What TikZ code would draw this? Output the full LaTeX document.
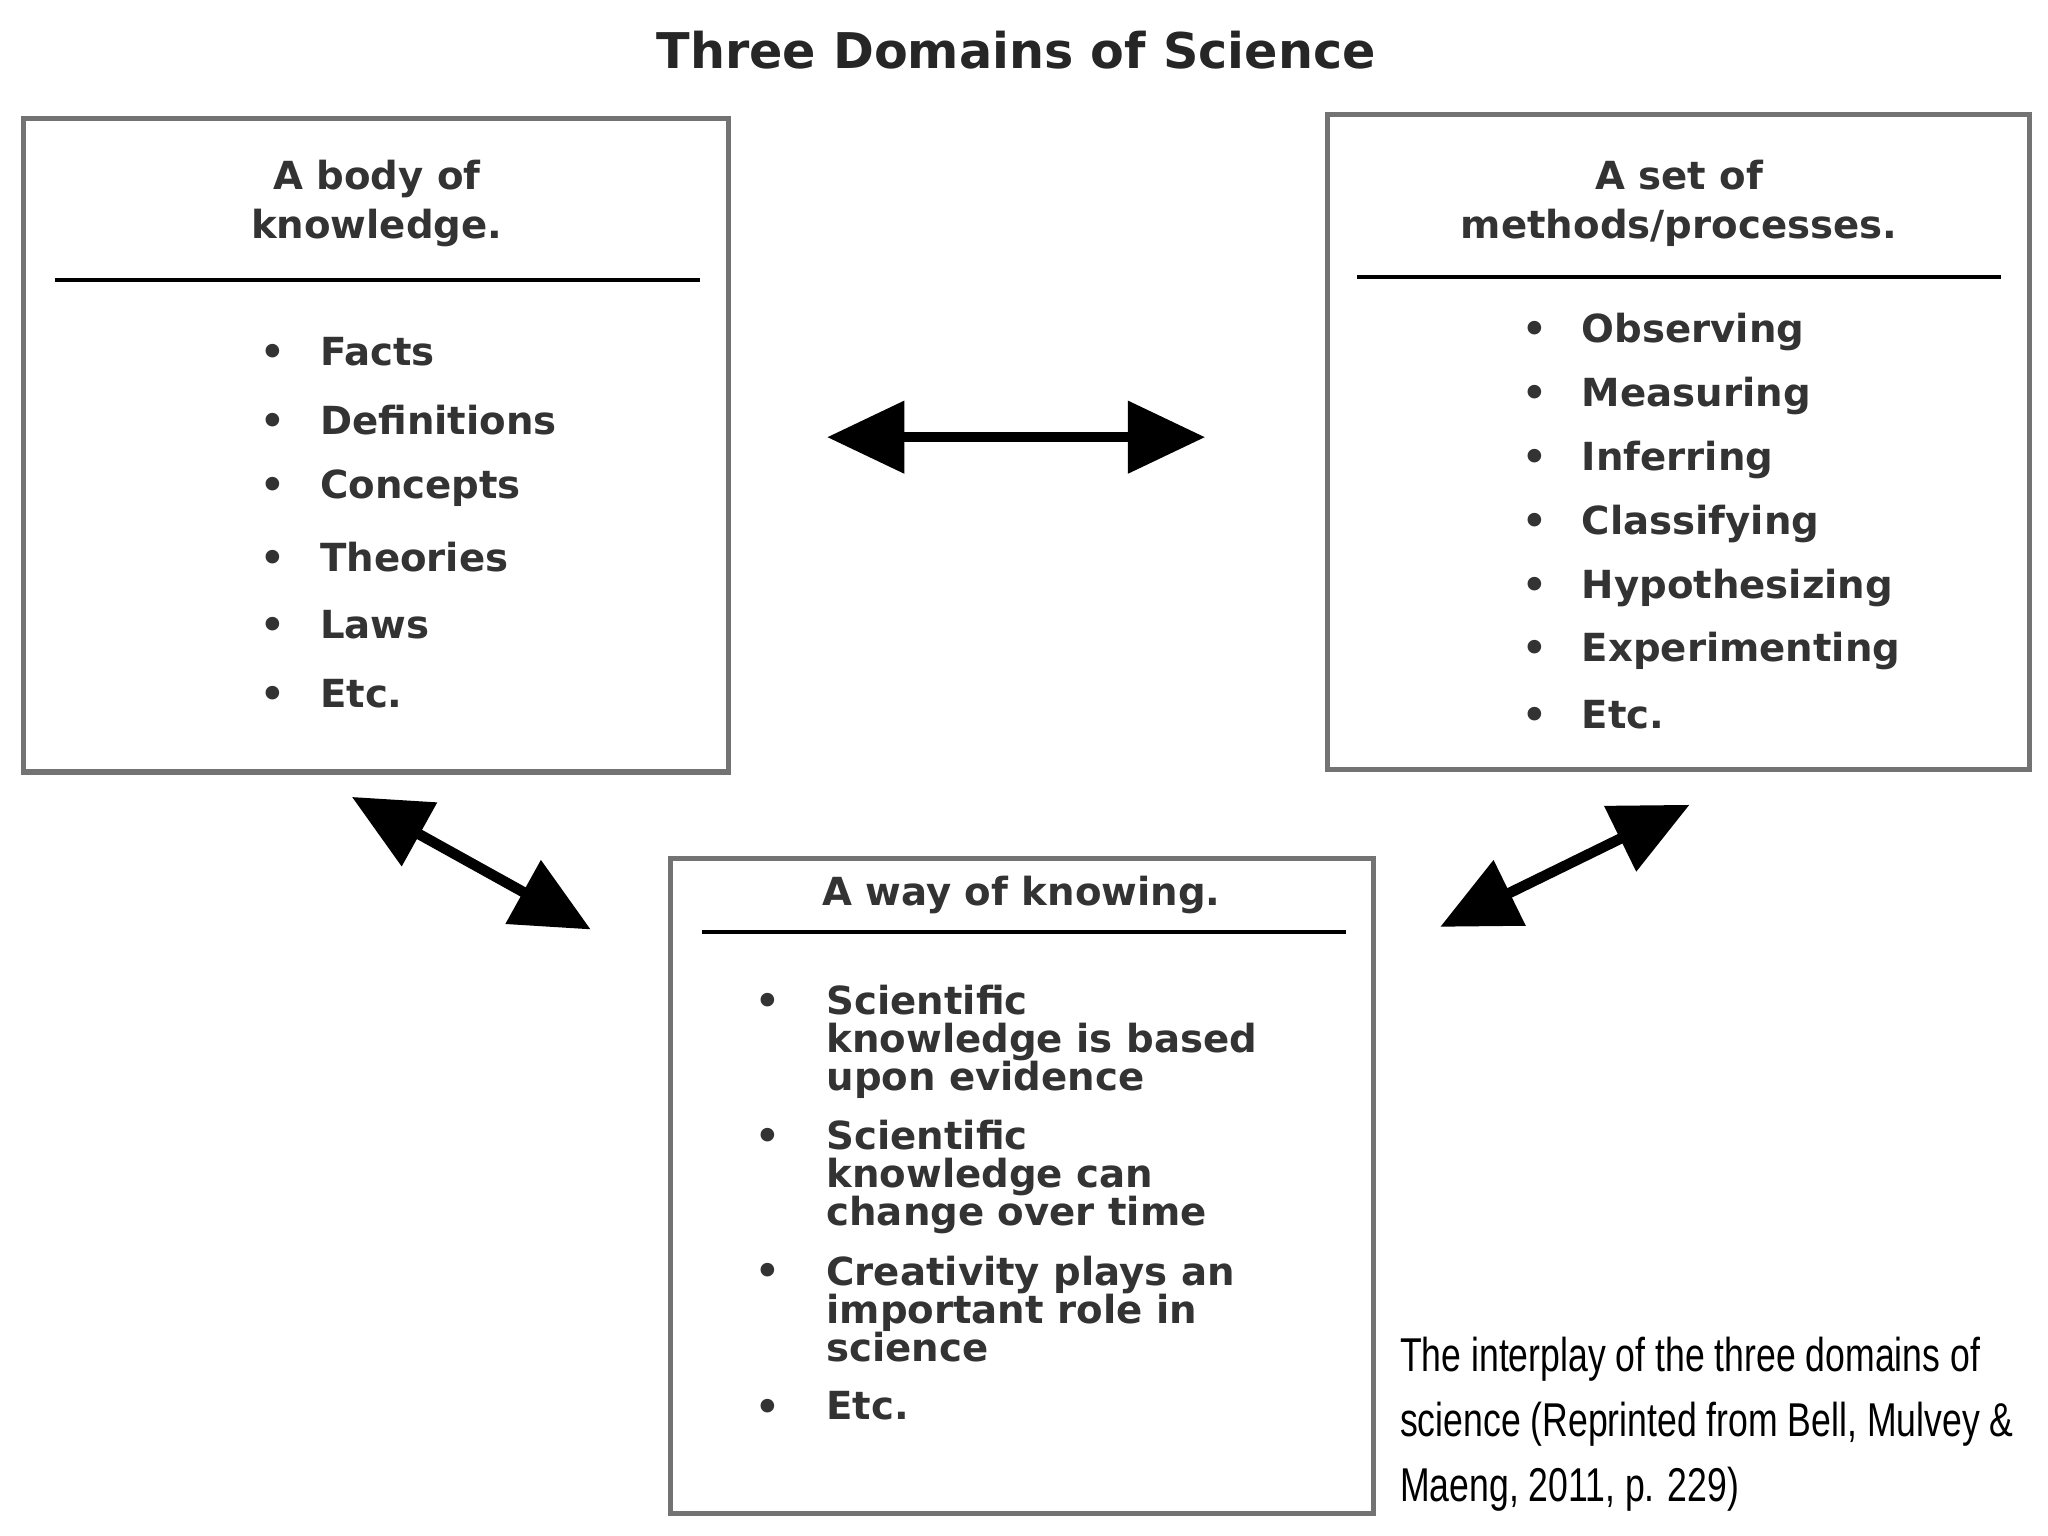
\documentclass[tikz,border=0pt]{standalone}
\usepackage{fontspec}
\setmainfont{DejaVu Sans}
\newfontfamily\capfont[FakeStretch=0.75]{Liberation Sans}
\usetikzlibrary{arrows.meta,positioning}
\tikzstyle{box} = [draw=black!55, line width=1.5pt]
\tikzstyle{rule} = [draw=black, line width=1.2pt]
\tikzstyle{item} = [anchor=west, inner sep=0, font=\fontsize{11}{10.8}\selectfont\bfseries, text=black!80]
\tikzstyle{head} = [align=center, inner sep=0, font=\fontsize{11}{14}\selectfont\bfseries, text=black!80]
\tikzstyle{dbl} = [{Triangle[length=22pt,width=20pt]}-{Triangle[length=22pt,width=20pt]}, line width=3pt]
\begin{document}
\begin{tikzpicture}[x=0.013128cm, y=-0.013128cm]
  \useasboundingbox (0,0) rectangle (1560,1170);

  \node[font=\fontsize{14}{14}\selectfont\bfseries, text=black!85] (title) at (774,38) {Three Domains of Science};

  % left box
  \draw[box] (18,90) rectangle (555,588);
  \node[head] (knowHead) at (287,155) {A body of\\knowledge.};
  \draw[rule] (42,213) -- (533,213);
  \foreach \t [count=\i] in {Facts,Definitions,Concepts,Theories,Laws,Etc.} {
    \node[item] (kb\i) at (198,216+52*\i) {\textbullet\hspace{0.9em}\t};
  }

  % right box
  \draw[box] (1011,87) rectangle (1546,586);
  \node[head] (methHead) at (1279,155) {A set of\\methods/processes.};
  \draw[rule] (1034,211) -- (1524,211);
  \foreach \t [count=\i] in {Observing,Measuring,Inferring,Classifying,Hypothesizing,Experimenting,Etc.} {
    \node[item] (mb\i) at (1159,204.5+48.6*\i) {\textbullet\hspace{0.9em}\t};
  }

  % bottom box
  \draw[box] (511,654) rectangle (1046,1153);
  \node[head] (wayHead) at (778,682) {A way of knowing.};
  \draw[rule] (535,710) -- (1025,710);
  \node[item, anchor=north west] (wb1) at (575,756) {\textbullet};
  \node[item, anchor=north west, align=left] (wt1) at (629,750) {Scientific\\knowledge is based\\upon evidence};
  \node[item, anchor=north west] (wb2) at (575,859) {\textbullet};
  \node[item, anchor=north west, align=left] (wt2) at (629,853) {Scientific\\knowledge can\\change over time};
  \node[item, anchor=north west] (wb3) at (575,962) {\textbullet};
  \node[item, anchor=north west, align=left] (wt3) at (629,956) {Creativity plays an\\important role in\\science};
  \node[item, anchor=north west] (wb4) at (575,1065) {\textbullet};
  \node[item, anchor=north west] (wt4) at (629,1059) {Etc.};

  % arrows
  \coordinate (topL) at (630,333);
  \coordinate (topR) at (918,333);
  \coordinate (leftA) at (268,607);
  \coordinate (leftB) at (450,708);
  \coordinate (rightA) at (1287,613);
  \coordinate (rightB) at (1097,706);
  \draw[dbl] (topL) -- (topR);
  \draw[dbl] (leftA) -- (leftB);
  \draw[dbl] (rightA) -- (rightB);

  % caption
  \node[anchor=north west, align=left, inner sep=0,
    font=\capfont\fontsize{13.5}{18.5}\selectfont] (caption) at (1066,1018)
    {The interplay of the three domains of\\science (Reprinted from Bell, Mulvey \&\\Maeng, 2011, p. 229)};
\end{tikzpicture}
\end{document}
